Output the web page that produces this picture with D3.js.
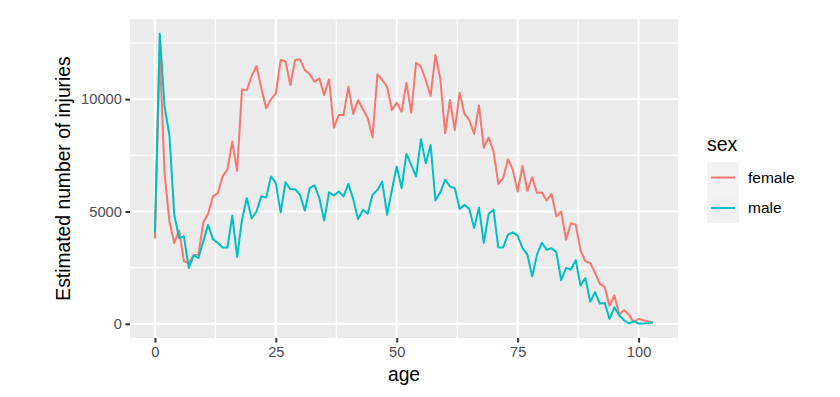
<!DOCTYPE html>
<html>
<head>
<meta charset="utf-8">
<script src="https://cdn.jsdelivr.net/npm/d3@7"></script>
<style>
  body { margin: 0; background: #fff; }
  svg text { font-family: "Liberation Sans", Arial, sans-serif; }
</style>
</head>
<body>
<div id="chart"></div>
<script>
var ages = d3.range(0, 104);
var sexes = ["female", "male"];
var colors = ["#F8766D", "#00BFC4"];

var female = [3800, 12100, 6700, 4560, 3600, 4160, 2780, 2710, 3050, 3080,
  4510, 4900, 5670, 5820, 6560, 6880, 8110, 6810, 10430, 10400,
  11030, 11470, 10480, 9590, 9990, 10260, 11740, 11690, 10630, 11740,
  11770, 11290, 11110, 10770, 10920, 10180, 10880, 8730, 9290, 9290,
  10550, 9340, 9960, 9550, 9150, 8300, 11100, 10850, 10550, 9520,
  9840, 9440, 10730, 9400, 11620, 11440, 10850, 10140, 11960, 10920,
  8480, 9960, 8630, 10290, 9340, 9070, 8450, 9710, 7840, 8290,
  7670, 6230, 6480, 7330, 6850, 5890, 7030, 5920, 6530, 5820,
  5850, 5490, 5790, 4780, 5000, 3740, 4480, 4410, 3270, 2780,
  2710, 2260, 1780, 1640, 810, 1270, 410, 610, 410, 70,
  220, 160, 120, 40];

var male = [4050, 12920, 9660, 8400, 4850, 3820, 3890, 2490, 3050, 2930,
  3670, 4410, 3770, 3600, 3400, 3400, 4810, 2975, 4630, 5590,
  4700, 5000, 5670, 5620, 6560, 6260, 4960, 6300, 5990, 5990,
  5740, 5030, 6040, 6160, 5590, 4600, 5850, 5710, 5890, 5670,
  6230, 5550, 4660, 5080, 4900, 5740, 5960, 6330, 4850, 5960,
  7000, 6040, 7560, 7070, 6560, 8210, 7150, 7960, 5490, 5850,
  6410, 6110, 6040, 5110, 5300, 5110, 4260, 5180, 3600, 4900,
  5080, 3400, 3400, 3970, 4070, 3920, 3370, 3080, 2120, 3080,
  3600, 3300, 3360, 3180, 1940, 2490, 2410, 2830, 1700, 2040,
  980, 1410, 900, 930, 220, 740, 370, 160, 15, 120,
  15, 15, 40, 70];

var xTicks = [0, 25, 50, 75, 100];
var xMinor = [12.5, 37.5, 62.5, 87.5];
var yTicks = [0, 5000, 10000];
var yMinor = [2500, 7500, 12500];

var W = 840, H = 397;
var panel = { left: 130, right: 678, top: 19, bottom: 338 };

var svg = d3.select("#chart").append("svg").attr("width", W).attr("height", H);

// ggplot style 5% expansion
function expand(ext) {
  var d = (ext[1] - ext[0]) * 0.05;
  return [ext[0] - d, ext[1] + d];
}
var series = [female, male];
var allVals = female.concat(male);

var x = d3.scaleLinear().domain(expand(d3.extent(ages))).range([panel.left, panel.right]);
var y = d3.scaleLinear().domain(expand(d3.extent(allVals))).range([panel.bottom, panel.top]);

svg.append("rect")
  .attr("x", panel.left).attr("y", panel.top)
  .attr("width", panel.right - panel.left).attr("height", panel.bottom - panel.top)
  .attr("fill", "#EBEBEB");

var grid = svg.append("g");
grid.selectAll(".ymin").data(yMinor).enter().append("line")
  .attr("x1", panel.left).attr("x2", panel.right)
  .attr("y1", d => y(d)).attr("y2", d => y(d))
  .attr("stroke", "#fff").attr("stroke-width", 1.1);
grid.selectAll(".xmin").data(xMinor).enter().append("line")
  .attr("y1", panel.top).attr("y2", panel.bottom)
  .attr("x1", d => x(d)).attr("x2", d => x(d))
  .attr("stroke", "#fff").attr("stroke-width", 1.1);
grid.selectAll(".ymaj").data(yTicks).enter().append("line")
  .attr("x1", panel.left).attr("x2", panel.right)
  .attr("y1", d => y(d)).attr("y2", d => y(d))
  .attr("stroke", "#fff").attr("stroke-width", 2.2);
grid.selectAll(".xmaj").data(xTicks).enter().append("line")
  .attr("y1", panel.top).attr("y2", panel.bottom)
  .attr("x1", d => x(d)).attr("x2", d => x(d))
  .attr("stroke", "#fff").attr("stroke-width", 2.2);

var line = d3.line().x((d, i) => x(ages[i])).y(d => y(d));
svg.selectAll(".series").data(series).enter().append("path")
  .attr("d", d => line(d))
  .attr("fill", "none")
  .attr("stroke", (d, i) => colors[i])
  .attr("stroke-width", 2)
  .attr("stroke-linejoin", "round");

// axes
var xAxis = svg.append("g").attr("transform", "translate(0," + panel.bottom + ")")
  .call(d3.axisBottom(x).tickValues(xTicks).tickSize(4.6).tickPadding(3.5));
var yAxis = svg.append("g").attr("transform", "translate(" + panel.left + ",0)")
  .call(d3.axisLeft(y).tickValues(yTicks).tickSize(4.6).tickPadding(3.5).tickFormat(d3.format("d")));
[xAxis, yAxis].forEach(function (a) {
  a.select(".domain").remove();
  a.selectAll(".tick line").attr("stroke", "#333333").attr("stroke-width", 2);
  a.selectAll(".tick text").attr("fill", "#4D4D4D").style("font-size", "14.7px");
});

svg.append("text").attr("x", (panel.left + panel.right) / 2).attr("y", 381)
  .attr("text-anchor", "middle").style("font-size", "19.3px").attr("fill", "#000")
  .text("age");
svg.append("text")
  .attr("transform", "translate(70," + (panel.top + panel.bottom) / 2 + ") rotate(-90)")
  .attr("text-anchor", "middle").style("font-size", "19.3px").attr("fill", "#000")
  .text("Estimated number of injuries");

// legend
var lg = svg.append("g").attr("transform", "translate(707,162)");
lg.append("text").attr("x", 0).attr("y", -11).style("font-size", "19.5px").text("sex");
var keys = lg.selectAll(".key").data(sexes).enter().append("g")
  .attr("transform", (d, i) => "translate(0," + (i * 30.5) + ")");
keys.append("rect").attr("width", 32).attr("height", 30.5).attr("fill", "#F2F2F2");
keys.append("line").attr("x1", 4).attr("x2", 28).attr("y1", 15.5).attr("y2", 15.5)
  .attr("stroke", (d, i) => colors[i]).attr("stroke-width", 2);
keys.append("text").attr("x", 41).attr("y", 15.5).attr("dy", "0.35em")
  .style("font-size", "15.5px").attr("fill", "#000").text(d => d);
</script>
</body>
</html>
